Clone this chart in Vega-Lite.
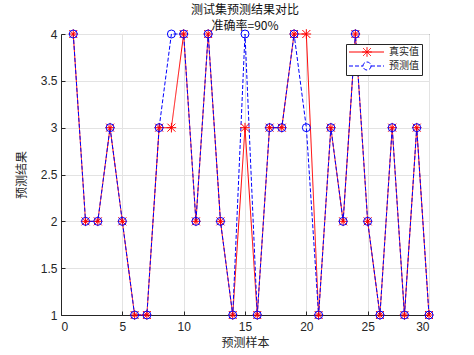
{
  "$schema": "https://vega.github.io/schema/vega-lite/v6.json",
  "width": 368,
  "height": 281,
  "autosize": {"type": "none"},
  "padding": {"left": 61, "top": 34, "right": 45, "bottom": 40},
  "background": "white",
  "config": {
    "view": {"stroke": "#262626", "strokeWidth": 1},
    "font": "Liberation Sans",
    "axis": {
      "grid": true, "gridColor": "#e3e3e3", "gridWidth": 1,
      "domainColor": "#262626", "tickColor": "#262626", "tickSize": -4,
      "labelFont": "Liberation Sans", "labelFontSize": 12, "labelColor": "#262626",
      "titleFont": "Noto Sans CJK SC", "titleFontSize": 12, "titleFontWeight": "normal", "titleColor": "#262626"
    }
  },
  "title": {
    "text": ["测试集预测结果对比", "准确率=90%"],
    "font": "Noto Sans CJK SC", "fontSize": 12, "fontWeight": "normal", "color": "#111111",
    "anchor": "middle", "offset": 3, "lineHeight": 16, "dy": 9
  },
  "data": {
    "values": [
      {"x":1,"v":4,"s":"真实值"},{"x":2,"v":2,"s":"真实值"},{"x":3,"v":2,"s":"真实值"},{"x":4,"v":3,"s":"真实值"},{"x":5,"v":2,"s":"真实值"},
      {"x":6,"v":1,"s":"真实值"},{"x":7,"v":1,"s":"真实值"},{"x":8,"v":3,"s":"真实值"},{"x":9,"v":3,"s":"真实值"},{"x":10,"v":4,"s":"真实值"},
      {"x":11,"v":2,"s":"真实值"},{"x":12,"v":4,"s":"真实值"},{"x":13,"v":2,"s":"真实值"},{"x":14,"v":1,"s":"真实值"},{"x":15,"v":3,"s":"真实值"},
      {"x":16,"v":1,"s":"真实值"},{"x":17,"v":3,"s":"真实值"},{"x":18,"v":3,"s":"真实值"},{"x":19,"v":4,"s":"真实值"},{"x":20,"v":4,"s":"真实值"},
      {"x":21,"v":1,"s":"真实值"},{"x":22,"v":3,"s":"真实值"},{"x":23,"v":2,"s":"真实值"},{"x":24,"v":4,"s":"真实值"},{"x":25,"v":2,"s":"真实值"},
      {"x":26,"v":1,"s":"真实值"},{"x":27,"v":3,"s":"真实值"},{"x":28,"v":1,"s":"真实值"},{"x":29,"v":3,"s":"真实值"},{"x":30,"v":1,"s":"真实值"},
      {"x":1,"v":4,"s":"预测值"},{"x":2,"v":2,"s":"预测值"},{"x":3,"v":2,"s":"预测值"},{"x":4,"v":3,"s":"预测值"},{"x":5,"v":2,"s":"预测值"},
      {"x":6,"v":1,"s":"预测值"},{"x":7,"v":1,"s":"预测值"},{"x":8,"v":3,"s":"预测值"},{"x":9,"v":4,"s":"预测值"},{"x":10,"v":4,"s":"预测值"},
      {"x":11,"v":2,"s":"预测值"},{"x":12,"v":4,"s":"预测值"},{"x":13,"v":2,"s":"预测值"},{"x":14,"v":1,"s":"预测值"},{"x":15,"v":4,"s":"预测值"},
      {"x":16,"v":1,"s":"预测值"},{"x":17,"v":3,"s":"预测值"},{"x":18,"v":3,"s":"预测值"},{"x":19,"v":4,"s":"预测值"},{"x":20,"v":3,"s":"预测值"},
      {"x":21,"v":1,"s":"预测值"},{"x":22,"v":3,"s":"预测值"},{"x":23,"v":2,"s":"预测值"},{"x":24,"v":4,"s":"预测值"},{"x":25,"v":2,"s":"预测值"},
      {"x":26,"v":1,"s":"预测值"},{"x":27,"v":3,"s":"预测值"},{"x":28,"v":1,"s":"预测值"},{"x":29,"v":3,"s":"预测值"},{"x":30,"v":1,"s":"预测值"}
    ]
  },
  "encoding": {
    "x": {"field": "x", "type": "quantitative", "title": "预测样本",
      "scale": {"domain": [0, 30], "nice": false},
      "axis": {"values": [0,5,10,15,20,25,30], "labelPadding": 10, "titlePadding": 5}},
    "y": {"field": "v", "type": "quantitative", "title": "预测结果",
      "scale": {"domain": [1, 4], "nice": false, "zero": false},
      "axis": {"values": [1,1.5,2,2.5,3,3.5,4], "format": "~g", "labelPadding": 8, "titlePadding": 12}},
    "color": {"field": "s", "type": "nominal",
      "scale": {"domain": ["真实值", "预测值"], "range": ["#ff0000", "#0000ff"]},
      "legend": {
        "title": null, "orient": "none", "legendX": 285, "legendY": 10,
        "strokeColor": "#262626", "fillColor": "white", "padding": 3,
        "labelFont": "Noto Sans CJK SC", "labelFontSize": 10, "labelColor": "#262626",
        "symbolSize": 64, "symbolStrokeWidth": 1, "labelOffset": 30, "rowPadding": 1,
        "encode": {
          "symbols": {"update": {
            "shape": {"signal": "datum.value === '真实值' ? 'M-1.25,0H7.5M2.25,-1L4.25,1M2.25,1L4.25,-1M3.25,-1.2V1.2M2.05,0H4.45' : 'M-1.25,0H2.25M4.25,0H7.5M4.25,0A1,1,0,1,1,2.25,0A1,1,0,1,1,4.25,0'"},
            "strokeDash": {"signal": "datum.value === '真实值' ? [] : [3,2]"},
            "fill": {"value": "transparent"},
            "fillOpacity": {"value": 0}
          }}
        }
      }}
  },
  "layer": [
    {
      "mark": {"type": "line", "strokeWidth": 1},
      "encoding": {
        "strokeDash": {"field": "s", "type": "nominal",
          "scale": {"domain": ["真实值", "预测值"], "range": [[1, 0], [4, 2]]}, "legend": null}
      }
    },
    {
      "transform": [{"filter": "datum.s === '真实值'"}],
      "mark": {"type": "point", "filled": false, "strokeWidth": 1, "opacity": 1,
        "shape": "M-1,-1L1,1M-1,1L1,-1M0,-1.2V1.2M-1.2,0H1.2", "size": 64}
    },
    {
      "transform": [{"filter": "datum.s === '预测值'"}],
      "mark": {"type": "point", "filled": false, "strokeWidth": 1, "opacity": 1,
        "shape": "circle", "size": 64}
    }
  ]
}
